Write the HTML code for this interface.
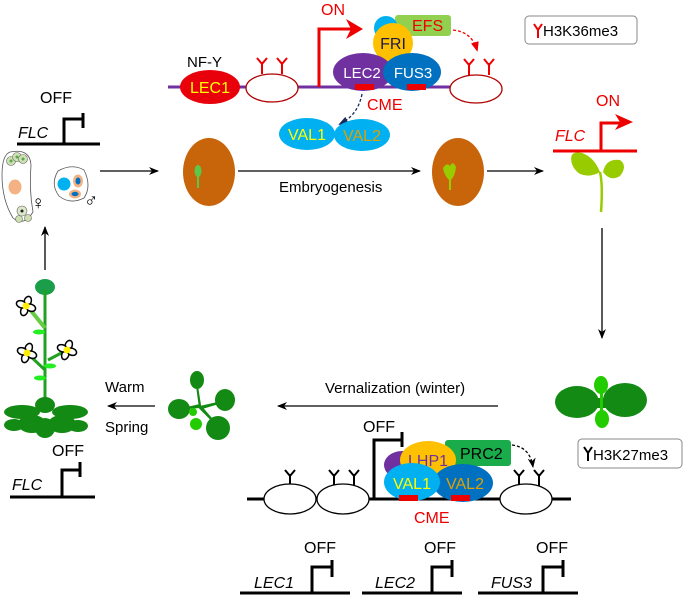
<!DOCTYPE html>
<html><head><meta charset="utf-8"><style>
html,body{margin:0;padding:0;background:#fff}
svg{display:block;font-family:"Liberation Sans",Arial,sans-serif}
</style></head><body>
<svg width="685" height="596" viewBox="0 0 685 596" xmlns="http://www.w3.org/2000/svg">
<defs>
<marker id="ab" markerWidth="10" markerHeight="8" refX="9" refY="4" orient="auto" markerUnits="userSpaceOnUse"><path d="M0,0 L10,4 L0,8 L3,4 z" fill="#000"/></marker>
<marker id="ar" markerWidth="10" markerHeight="8" refX="8" refY="4" orient="auto" markerUnits="userSpaceOnUse"><path d="M0,0 L10,4 L0,8 z" fill="#e00"/></marker>
<marker id="an" markerWidth="10" markerHeight="8" refX="8" refY="4" orient="auto" markerUnits="userSpaceOnUse"><path d="M0,0 L10,4 L0,8 z" fill="#1a2a5a"/></marker>
<g id="fl">
<ellipse cx="0" cy="-5" rx="3.5" ry="5" fill="#fff" stroke="#000" stroke-width="1.5"/>
<ellipse cx="0" cy="5" rx="3.5" ry="5" fill="#fff" stroke="#000" stroke-width="1.5"/>
<ellipse cx="-5" cy="0" rx="5" ry="3.5" fill="#fff" stroke="#000" stroke-width="1.5"/>
<ellipse cx="5" cy="0" rx="5" ry="3.5" fill="#fff" stroke="#000" stroke-width="1.5"/>
<circle r="3.5" fill="#ffee00"/>
</g>
</defs>

<!-- TOP panel -->
<line x1="168" y1="87" x2="500" y2="87" stroke="#7030a0" stroke-width="3"/>
<text x="187" y="67" font-size="15">NF-Y</text>
<ellipse cx="210" cy="87" rx="30" ry="17" fill="#e8000b"/>
<text x="210" y="93" font-size="16" fill="#ffff00" text-anchor="middle">LEC1</text>
<ellipse cx="272" cy="88" rx="26" ry="14" fill="#fff" stroke="#b00000" stroke-width="1.3"/>
<g stroke="#e00" stroke-width="2" fill="none">
<path d="M262,74V62 M257,58 L262,64 L267,58 M282,74V62 M277,58 L282,64 L287,58"/>
<path d="M469,75V63 M464,59 L469,65 L474,59 M489,75V63 M484,59 L489,65 L494,59"/>
</g>
<ellipse cx="476" cy="89" rx="26" ry="14" fill="#fff" stroke="#b00000" stroke-width="1.3"/>
<path d="M319,87V29H352" stroke="#e00" stroke-width="3" fill="none"/>
<path d="M346,19 L363,29 L346,39 L351,29z" fill="#e00"/>
<text x="321" y="15" font-size="16" fill="#e00">ON</text>
<rect x="395" y="15" width="56" height="21" rx="3" fill="#92d050"/>
<text x="412" y="31" font-size="16" fill="#e00">EFS</text>
<circle cx="386" cy="28" r="12" fill="#00b0f0"/>
<circle cx="393" cy="43" r="20" fill="#ffc000"/>
<text x="393" y="49" font-size="16" fill="#1a1a4a" text-anchor="middle">FRI</text>
<ellipse cx="363" cy="72" rx="30" ry="19" fill="#7030a0"/>
<ellipse cx="412" cy="72" rx="29" ry="19" fill="#0070c0"/>
<text x="362" y="78" font-size="15" fill="#fff" text-anchor="middle">LEC2</text>
<text x="413" y="78" font-size="15" fill="#fff" text-anchor="middle">FUS3</text>
<rect x="355" y="84" width="19" height="6" fill="#e00"/>
<rect x="407" y="84" width="19" height="6" fill="#e00"/>
<text x="367" y="110" font-size="16" fill="#e00">CME</text>
<path d="M453,30 Q472,32 477,50" stroke="#e00" stroke-width="1.3" stroke-dasharray="3,2" fill="none" marker-end="url(#ar)"/>
<path d="M362,94 Q358,115 340,124" stroke="#1a2a5a" stroke-width="1.3" stroke-dasharray="3,2" fill="none" marker-end="url(#an)"/>
<ellipse cx="307" cy="134" rx="28" ry="16" fill="#00b0f0"/>
<ellipse cx="362" cy="135" rx="28" ry="16" fill="#00b0f0"/>
<text x="307" y="140" font-size="16" fill="#ffff00" text-anchor="middle">VAL1</text>
<text x="362" y="141" font-size="16" fill="#e0a000" text-anchor="middle">VAL2</text>

<rect x="525" y="16" width="112" height="28" rx="4" fill="#fff" stroke="#888"/>
<path d="M534,24 L538,30 L542,24 M538,30V38" stroke="#e00" stroke-width="2" fill="none"/>
<text x="543" y="36" font-size="15">H3K36me3</text>

<!-- left top FLC -->
<text x="40" y="103" font-size="16">OFF</text>
<path d="M17,144H100 M64,144V119H83 M83,113V128" stroke="#000" stroke-width="3" fill="none"/>
<text x="18" y="138" font-size="16" font-style="italic">FLC</text>
<!-- cells -->
<path d="M10,152 Q30,148 31,165 Q29,190 33,212 Q24,227 13,218 Q2,200 2,175 Q2,155 10,152z" fill="#fff" stroke="#555" stroke-width="0.8"/>
<circle cx="11" cy="161" r="4.5" fill="#cfe0b0" stroke="#666" stroke-width="0.6"/><circle cx="17" cy="157" r="4.5" fill="#cfe0b0" stroke="#666" stroke-width="0.6"/><circle cx="23" cy="159" r="4.5" fill="#cfe0b0" stroke="#666" stroke-width="0.6"/>
<circle cx="11" cy="161" r="1.5" fill="#5a5"/><circle cx="17" cy="157" r="1.5" fill="#5a5"/><circle cx="23" cy="159" r="1.5" fill="#5a5"/>
<ellipse cx="15" cy="187" rx="6.5" ry="7.5" fill="#f4b183"/>
<circle cx="22" cy="211" r="5" fill="#dde8c8" stroke="#666" stroke-width="0.6"/><circle cx="28" cy="218" r="3.5" fill="#cfe0b0" stroke="#666" stroke-width="0.6"/><circle cx="19" cy="219" r="3.5" fill="#cfe0b0" stroke="#666" stroke-width="0.6"/>
<circle cx="22" cy="211" r="1.5" fill="#223"/>
<text x="31" y="209" font-size="19">♀</text>
<path d="M58,171 Q72,163 84,170 Q92,186 84,198 Q70,205 59,196 Q50,184 58,171z" fill="#fff" stroke="#555" stroke-width="0.8"/>
<circle cx="64" cy="184" r="6.5" fill="#00b0f0"/>
<ellipse cx="78" cy="181" rx="5" ry="6.5" fill="#f4b183"/><ellipse cx="78" cy="181" rx="2.5" ry="3.5" fill="#0070c0"/>
<ellipse cx="75" cy="194" rx="6" ry="4.5" fill="#f4b183"/><ellipse cx="75" cy="194" rx="3.5" ry="2.2" fill="#0070c0"/>
<text x="84" y="207" font-size="19">♂</text>

<!-- middle row -->
<line x1="100" y1="171" x2="158" y2="171" stroke="#000" stroke-width="1.3" marker-end="url(#ab)"/>
<ellipse cx="209" cy="172" rx="26" ry="34" fill="#c8650a"/>
<ellipse cx="198" cy="171" rx="3.5" ry="6" fill="#5cc84a"/><line x1="198" y1="174" x2="198" y2="188" stroke="#5cc84a" stroke-width="2"/>
<line x1="238" y1="171" x2="420" y2="171" stroke="#000" stroke-width="1.3" marker-end="url(#ab)"/>
<text x="279" y="192" font-size="15">Embryogenesis</text>
<ellipse cx="458" cy="172" rx="26" ry="34" fill="#c8650a"/>
<path d="M443,168 Q447,162 450,166 Q453,160 456,167 Q455,176 451,180 L451,190 L449,190 L449,180 Q444,175 443,168z" fill="#99cc00"/>
<line x1="487" y1="171" x2="543" y2="171" stroke="#000" stroke-width="1.3" marker-end="url(#ab)"/>
<text x="596" y="106" font-size="16" fill="#e00">ON</text>
<path d="M553,151H637 M601,151V123H620" stroke="#e00" stroke-width="3" fill="none"/>
<path d="M615,114 L633,122 L615,130 L620,122z" fill="#e00"/>
<text x="555" y="141" font-size="16" font-style="italic" fill="#e00">FLC</text>
<path d="M572,164 Q568,150 582,153 Q594,157 600,172 Q590,178 580,174 Q574,170 572,164z" fill="#99cc00"/>
<path d="M603,172 Q606,158 620,160 Q628,166 620,176 Q610,182 603,172z" fill="#99cc00"/>
<path d="M600,172 Q603,185 601,212" stroke="#99cc00" stroke-width="2.5" fill="none"/>
<line x1="602" y1="228" x2="602" y2="338" stroke="#000" stroke-width="1.3" marker-end="url(#ab)"/>

<!-- rosettes -->
<g fill="#138a13">
<ellipse cx="577" cy="402" rx="22" ry="16"/><ellipse cx="625" cy="400" rx="22" ry="17"/>
<path d="M595,398H612V408H595z"/>
</g>
<g fill="#22cc00">
<ellipse cx="601" cy="385" rx="7" ry="9"/><ellipse cx="602" cy="419" rx="7" ry="9"/><rect x="600" y="390" width="3" height="25"/>
</g>
<line x1="498" y1="406" x2="278" y2="406" stroke="#000" stroke-width="1.3" marker-end="url(#ab)"/>
<text x="325" y="393" font-size="15">Vernalization (winter)</text>
<g fill="#138a13">
<ellipse cx="197" cy="380" rx="7" ry="9"/><ellipse cx="179" cy="409" rx="11" ry="10"/><ellipse cx="225" cy="400" rx="10" ry="11"/><ellipse cx="218" cy="428" rx="12" ry="12"/>
<path d="M197,386 L200,405 L187,408 L200,407 L222,402 L202,408 L215,423 L200,408z" stroke="#138a13" stroke-width="2"/>
</g>
<g fill="#22cc00"><circle cx="193" cy="412" r="4"/><circle cx="196" cy="424" r="6"/></g>
<line x1="155" y1="406" x2="108" y2="406" stroke="#000" stroke-width="1.3" marker-end="url(#ab)"/>
<text x="105" y="392" font-size="15">Warm</text>
<text x="105" y="432" font-size="15">Spring</text>

<!-- flowering plant -->
<line x1="45" y1="270" x2="45" y2="227" stroke="#000" stroke-width="1.3" marker-end="url(#ab)"/>
<ellipse cx="45" cy="287" rx="10" ry="8" fill="#1a9e4a"/>
<line x1="45" y1="290" x2="45" y2="402" stroke="#22a022" stroke-width="3"/>
<line x1="45" y1="328" x2="28" y2="307" stroke="#66cc44" stroke-width="4"/>
<line x1="45" y1="370" x2="27" y2="353" stroke="#22a022" stroke-width="3"/>
<line x1="48" y1="360" x2="67" y2="350" stroke="#22a022" stroke-width="3"/>
<ellipse cx="39" cy="332" rx="6" ry="2.5" fill="#22ee22"/><ellipse cx="50" cy="366" rx="6" ry="2.5" fill="#22ee22"/><ellipse cx="40" cy="378" rx="6" ry="2.5" fill="#22ee22"/>
<use href="#fl" transform="translate(26,306) rotate(20)"/>
<use href="#fl" transform="translate(27,353) rotate(20)"/>
<use href="#fl" transform="translate(67,350) rotate(20)"/>
<g fill="#138a13">
<ellipse cx="45" cy="405" rx="10" ry="8"/><ellipse cx="22" cy="412" rx="18" ry="7"/><ellipse cx="70" cy="412" rx="18" ry="7"/>
<ellipse cx="32" cy="424" rx="14" ry="9"/><ellipse cx="62" cy="424" rx="14" ry="9"/><ellipse cx="45" cy="428" rx="10" ry="10"/>
<ellipse cx="14" cy="425" rx="10" ry="6"/><ellipse cx="78" cy="426" rx="10" ry="6"/>
</g>
<text x="52" y="456" font-size="16">OFF</text>
<path d="M10,497H95 M62,497V470H80 M80,462V477" stroke="#000" stroke-width="3" fill="none"/>
<text x="12" y="490" font-size="16" font-style="italic">FLC</text>

<!-- bottom panel -->
<line x1="247" y1="499" x2="571" y2="499" stroke="#000" stroke-width="3"/>
<g stroke="#000" stroke-width="2" fill="none">
<path d="M290,486V474 M285,470 L290,476 L295,470"/>
<path d="M334,486V474 M329,470 L334,476 L339,470 M354,486V474 M349,470 L354,476 L359,470"/>
<path d="M519,486V474 M514,470 L519,476 L524,470 M539,486V474 M534,470 L539,476 L544,470"/>
</g>
<ellipse cx="290" cy="499" rx="26" ry="15" fill="#fff" stroke="#000" stroke-width="1.3"/>
<ellipse cx="343" cy="499" rx="26" ry="15" fill="#fff" stroke="#000" stroke-width="1.3"/>
<ellipse cx="526" cy="499" rx="26" ry="15" fill="#fff" stroke="#000" stroke-width="1.3"/>
<path d="M374,499V440H402 M402,432V447" stroke="#000" stroke-width="3" fill="none"/>
<text x="363" y="432" font-size="16">OFF</text>
<ellipse cx="402" cy="465" rx="18" ry="14" fill="#7030a0"/>
<rect x="445" y="440" width="66" height="26" rx="3" fill="#1aab4a"/>
<text x="460" y="459" font-size="16">PRC2</text>
<ellipse cx="428" cy="460" rx="28" ry="19" fill="#ffc000"/>
<text x="428" y="466" font-size="16" fill="#7030a0" text-anchor="middle">LHP1</text>
<ellipse cx="463" cy="483" rx="30" ry="19" fill="#0070c0"/>
<ellipse cx="412" cy="482" rx="28" ry="19" fill="#00b0f0"/>
<text x="412" y="489" font-size="16" fill="#ffff00" text-anchor="middle">VAL1</text>
<text x="465" y="489" font-size="16" fill="#e0a000" text-anchor="middle">VAL2</text>
<rect x="399" y="495" width="19" height="6" fill="#e00"/>
<rect x="451" y="495" width="19" height="6" fill="#e00"/>
<text x="414" y="523" font-size="16" fill="#e00">CME</text>
<path d="M512,445 Q530,447 533,467" stroke="#000" stroke-width="1.3" stroke-dasharray="3,2" fill="none" marker-end="url(#ab)"/>
<rect x="578" y="439" width="104" height="29" rx="4" fill="#fff" stroke="#888"/>
<path d="M584,447 L588,453 L592,447 M588,453V461" stroke="#000" stroke-width="2" fill="none"/>
<text x="593" y="460" font-size="15">H3K27me3</text>

<g stroke="#000" stroke-width="3" fill="none">
<path d="M240,593H350 M312,593V567H332 M332,560V577"/>
<path d="M362,593H462 M432,593V567H452 M452,560V577"/>
<path d="M478,593H578 M543,593V567H563 M563,560V577"/>
</g>
<g font-size="16">
<text x="304" y="553">OFF</text><text x="424" y="553">OFF</text><text x="536" y="553">OFF</text>
<g font-style="italic"><text x="254" y="588">LEC1</text><text x="375" y="588">LEC2</text><text x="491" y="588">FUS3</text></g>
</g>
</svg>
</body></html>
